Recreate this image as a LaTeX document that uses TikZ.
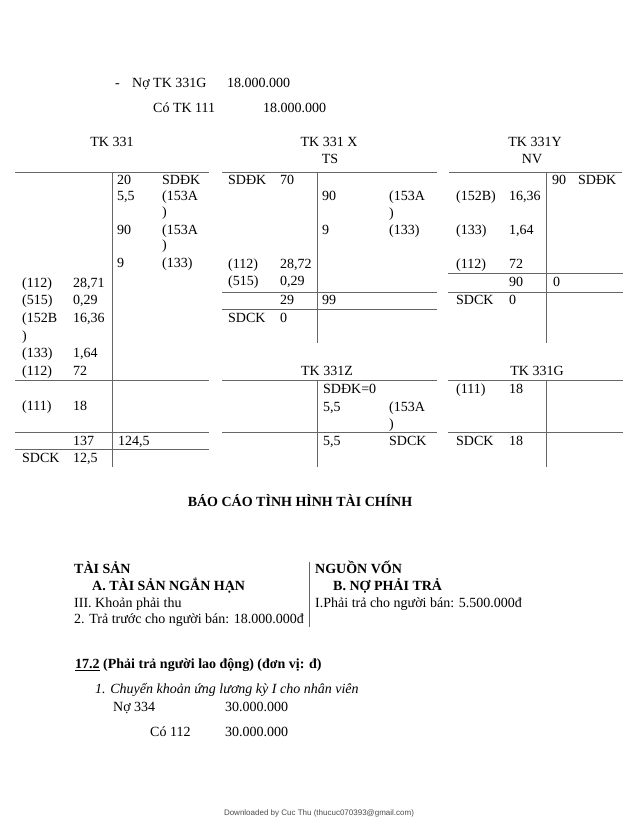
\documentclass[tikz,border=0pt]{standalone}
\usepackage{fontspec}
\setmainfont{Liberation Serif}
\newfontfamily\footfont{Liberation Sans}
\usetikzlibrary{positioning}

\tikzset{
  cell/.style={anchor=mid west, inner sep=0pt},
  head/.style={anchor=mid, inner sep=0pt},
  rule/.style={draw=black!60, line width=1pt},
}

\begin{document}
\begin{tikzpicture}[x=1pt, y=-1pt, font=\fontsize{14}{16}\selectfont]
  \useasboundingbox (0,0) rectangle (638,826);

  % Journal entry
  \node[cell] (dash) at (115,85) {-};
  \node[cell] (no1) at (132,85) {Nợ TK 331G};
  \node[cell] (no1v) at (227,85) {18.000.000};
  \node[cell] (co1) at (153,110) {Có TK 111};
  \node[cell] (co1v) at (263,110) {18.000.000};

  % Headings
  \node[head] (hA) at (112,144) {TK 331};
  \node[head] (hX) at (329,144) {TK 331 X};
  \node[head] (hXb) at (330,161) {TS};
  \node[head] (hY) at (535,144) {TK 331Y};
  \node[head] (hYb) at (532,161) {NV};
  \node[head] (hZ) at (327,373) {TK 331Z};
  \node[head] (hG) at (537,373) {TK 331G};

  % Rules of the T accounts
  \draw[rule] (15,173) -- (209,173);
  \draw[rule] (112,173) -- (112,467);
  \foreach \y in {380,432,449}
    \draw[rule] (15,\y) -- (209,\y);
  \draw[rule] (222,173) -- (437,173);
  \draw[rule] (317,173) -- (317,343);
  \foreach \y in {292,309}
    \draw[rule] (222,\y) -- (437,\y);
  \draw[rule] (449,173) -- (622,173);
  \draw[rule] (546,173) -- (546,343);
  \foreach \y in {273,292}
    \draw[rule] (448,\y) -- (623,\y);
  \draw[rule] (222,380) -- (437,380);
  \draw[rule] (317,380) -- (317,467);
  \draw[rule] (222,432) -- (437,432);
  \draw[rule] (448,380) -- (623,380);
  \draw[rule] (546,380) -- (546,467);
  \draw[rule] (448,432) -- (623,432);

  % TK 331
  \node[cell] (a1) at (117,182) {20};
  \node[cell] (a1b) at (162,182) {SDĐK};
  \node[cell] (a2) at (117,198) {5,5};
  \node[cell] (a2b) at (162,198) {(153A};
  \node[cell] (a2c) at (162,214) {)};
  \node[cell] (a3) at (117,232) {90};
  \node[cell] (a3b) at (162,232) {(153A};
  \node[cell] (a3c) at (162,247) {)};
  \node[cell] (a4) at (117,265) {9};
  \node[cell] (a4b) at (162,265) {(133)};
  \node[cell] (a5) at (22,285) {(112)};
  \node[cell] (a5b) at (73,285) {28,71};
  \node[cell] (a6) at (22,302) {(515)};
  \node[cell] (a6b) at (73,302) {0,29};
  \node[cell] (a7) at (22,320) {(152B};
  \node[cell] (a7b) at (73,320) {16,36};
  \node[cell] (a7c) at (22,338) {)};
  \node[cell] (a8) at (22,355) {(133)};
  \node[cell] (a8b) at (73,355) {1,64};
  \node[cell] (a9) at (22,373) {(112)};
  \node[cell] (a9b) at (73,373) {72};
  \node[cell] (a10) at (22,408) {(111)};
  \node[cell] (a10b) at (73,408) {18};
  \node[cell] (aS) at (73,443) {137};
  \node[cell] (aSb) at (118,443) {124,5};
  \node[cell] (aC) at (22,460) {SDCK};
  \node[cell] (aCb) at (73,460) {12,5};

  % TK 331 X
  \node[cell] (x1) at (228,182) {SDĐK};
  \node[cell] (x1b) at (280,182) {70};
  \node[cell] (x2) at (322,198) {90};
  \node[cell] (x2b) at (389,198) {(153A};
  \node[cell] (x2c) at (389,215) {)};
  \node[cell] (x3) at (322,232) {9};
  \node[cell] (x3b) at (389,232) {(133)};
  \node[cell] (x4) at (228,266) {(112)};
  \node[cell] (x4b) at (280,266) {28,72};
  \node[cell] (x5) at (228,283) {(515)};
  \node[cell] (x5b) at (280,283) {0,29};
  \node[cell] (xS) at (280,302) {29};
  \node[cell] (xSb) at (322,302) {99};
  \node[cell] (xC) at (228,320) {SDCK};
  \node[cell] (xCb) at (280,320) {0};

  % TK 331Y
  \node[cell] (y1) at (552,182) {90};
  \node[cell] (y1b) at (578,182) {SDĐK};
  \node[cell] (y2) at (456,198) {(152B)};
  \node[cell] (y2b) at (509,198) {16,36};
  \node[cell] (y3) at (456,232) {(133)};
  \node[cell] (y3b) at (509,232) {1,64};
  \node[cell] (y4) at (456,266) {(112)};
  \node[cell] (y4b) at (509,266) {72};
  \node[cell] (yS) at (509,284) {90};
  \node[cell] (ySb) at (553,284) {0};
  \node[cell] (yC) at (456,302) {SDCK};
  \node[cell] (yCb) at (509,302) {0};

  % TK 331Z
  \node[cell] (z1) at (323,391) {SDĐK=0};
  \node[cell] (z2) at (323,409) {5,5};
  \node[cell] (z2b) at (389,409) {(153A};
  \node[cell] (z2c) at (389,426) {)};
  \node[cell] (zS) at (323,443) {5,5};
  \node[cell] (zSb) at (389,443) {SDCK};

  % TK 331G
  \node[cell] (g1) at (456,391) {(111)};
  \node[cell] (g1b) at (509,391) {18};
  \node[cell] (gC) at (456,443) {SDCK};
  \node[cell] (gCb) at (509,443) {18};

  % Report
  \node[head, font=\fontsize{14}{16}\selectfont\bfseries] (title) at (300,504) {BÁO CÁO TÌNH HÌNH TÀI CHÍNH};
  \draw[rule] (309,562) -- (309,627);
  \node[cell, font=\fontsize{14}{16}\selectfont\bfseries] (ts) at (74,571) {TÀI SẢN};
  \node[cell, font=\fontsize{14}{16}\selectfont\bfseries] (tsA) at (92,588) {A. TÀI SẢN NGẮN HẠN};
  \node[cell] (ts3) at (74,605) {III. Khoản phải thu};
  \node[cell] (ts2) at (74,621) {2. Trả trước cho người bán: 18.000.000đ};
  \node[cell, font=\fontsize{14}{16}\selectfont\bfseries] (nv) at (315,571) {NGUỒN VỐN};
  \node[cell, font=\fontsize{14}{16}\selectfont\bfseries] (nvB) at (333,588) {B. NỢ PHẢI TRẢ};
  \node[cell] (nv1) at (315,605) {I.Phải trả cho người bán: 5.500.000đ};

  % 17.2
  \node[cell, font=\fontsize{14}{16}\selectfont\bfseries] (sec) at (75,666) {\underline{17.2} (Phải trả người lao động) (đơn vị: đ)};
  \node[cell, font=\fontsize{14}{16}\selectfont\itshape] (it1) at (95,691) {1. Chuyển khoản ứng lương kỳ I cho nhân viên};
  \node[cell] (no2) at (113,709) {Nợ 334};
  \node[cell] (no2v) at (225,709) {30.000.000};
  \node[cell] (co2) at (150,734) {Có 112};
  \node[cell] (co2v) at (225,734) {30.000.000};

  % Footer
  \node[head, font=\footfont\fontsize{8}{9}\selectfont, text=black!70] (foot) at (319,813) {Downloaded by Cuc Thu (thucuc070393@gmail.com)};
\end{tikzpicture}
\end{document}
